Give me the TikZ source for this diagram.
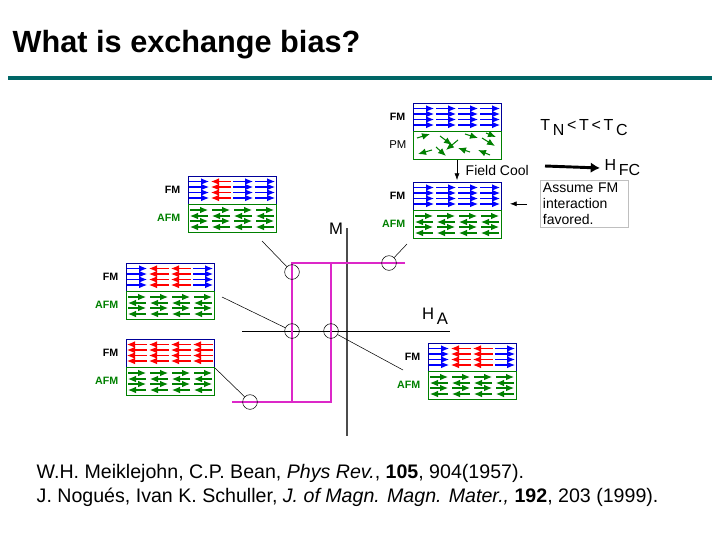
\documentclass[tikz,border=0pt]{standalone}
\usepackage{fontspec}
\setmainfont{Liberation Sans}
\usetikzlibrary{arrows.meta,positioning}
\definecolor{teal}{RGB}{0,102,102}
\definecolor{afmgreen}{RGB}{0,128,0}
\definecolor{loopmag}{RGB}{220,40,200}
\tikzset{
  half/.style={draw, minimum width=66pt, minimum height=21pt, inner sep=0pt, anchor=north west},
  spin/.style={line width=0.8pt, -{Latex[length=6pt,width=5pt]}},
  lab/.style={font=\fontsize{8}{9}\selectfont\bfseries, anchor=east},
  ring/.style={draw, circle, minimum size=11pt, inner sep=0pt},
  lead/.style={thin},
}
% #1 x, #2 y, #3 name, #4 FM columns colour/direction, #5 bottom label
\newcommand{\spinpanel}[5]{
  \node[half, draw=blue!60!black] (#3fm) at (#1,#2) {};
  \node[half, draw=afmgreen] (#3bot) at (#1,#2+28) {};
  \foreach \c/\d [count=\i from 0] in {#4}
    \foreach \r in {5.5,11,16.5,22}
      \draw[spin, \c] ({#1+22*\i+11-\d*10},#2+\r) -- ({#1+22*\i+11+\d*10},#2+\r);
  \node[lab] at (#1-3,#2+14) {FM};
  \node[lab, afmgreen] at (#1-3,#2+42) {#5};
}
\newcommand{\afm}[2]{
  \foreach \i in {0,...,3}{
    \draw[spin, afmgreen] (#1+22*\i+2,#2+28+6) -- (#1+22*\i+20,#2+28+6);
    \draw[spin, afmgreen] (#1+22*\i+20,#2+28+12) -- (#1+22*\i+2,#2+28+12);
    \draw[spin, afmgreen] (#1+22*\i+2,#2+28+17) -- (#1+22*\i+20,#2+28+17);
    \draw[spin, afmgreen] (#1+22*\i+20,#2+28+23) -- (#1+22*\i+2,#2+28+23);
  }
}
\begin{document}
\begin{tikzpicture}[x=0.75pt, y=-0.75pt]
\useasboundingbox (0,0) rectangle (720,540);
% title
\node[anchor=west, font=\fontsize{23}{26}\selectfont\bfseries] (title) at (8,45) {What is exchange bias?};
\draw[teal, line width=2.4pt] (8,78) -- (712,78);

% spin panels
\spinpanel{413}{103}{pa}{blue/1,blue/1,blue/1,blue/1}{}
\node[font=\fontsize{8.5}{9}\selectfont, anchor=east] at (411,145) {PM};
\foreach \x/\y/\u/\v in {417/138/430/134, 432/150/418/154, 440/136/452/145, 458/140/446/150, 465/134/478/138,
  470/152/458/148, 482/138/495/146, 490/155/478/150, 436/147/446/156, 486/133/496/137}
  \draw[spin, afmgreen] (\x,\y) -- (\u,\v);
\spinpanel{413}{182}{pb}{blue/1,blue/1,blue/1,blue/1}{AFM}
\afm{413}{182}
\spinpanel{188}{176}{pc}{blue/1,red/-1,blue/1,blue/1}{AFM}
\afm{188}{176}
\spinpanel{126}{263}{pd}{blue/1,red/-1,red/-1,blue/1}{AFM}
\afm{126}{263}
\spinpanel{126}{339}{pe}{red/-1,red/-1,red/-1,red/-1}{AFM}
\afm{126}{339}
\spinpanel{428}{343}{pf}{blue/1,red/-1,red/-1,blue/1}{AFM}
\afm{428}{343}

% field cooling
\draw[-{Latex[length=5pt]}] (457,160) -- (457,180);
\node[anchor=west, font=\fontsize{10.5}{12}\selectfont] (fc) at (461,170) {Field Cool};
\node[font=\fontsize{12}{13}\selectfont] (tn) at (584,128) {T\,\raisebox{-0.6ex}{N}\,<\,T\,<\,T\,\raisebox{-0.6ex}{C}};
\coordinate (hs) at (545,166);
\node[anchor=west, font=\fontsize{12}{13}\selectfont] (hfc) at (600,168) {H\,\raisebox{-0.6ex}{FC}};
\draw[line width=2.2pt, -{Latex[length=7pt,width=8pt]}] (hs) -- (hfc.west);
\node[draw=gray!50, anchor=north west, align=left, inner sep=2pt, text width=62pt, font=\fontsize{10.5}{12}\selectfont] (note) at (540,180) {Assume FM\\interaction\\favored.};
\draw[-{Latex[length=5pt]}] (note.west) ++(-13,0) coordinate (na) -- ++(-17,0);

% hysteresis loop
\draw[gray!60!black, thick] (347,228) -- (347,436);
\draw (242,331) -- (450,331);
\node[font=\fontsize{12.5}{13}\selectfont] (m) at (336,229) {M};
\node[font=\fontsize{12.5}{13}\selectfont] (ha) at (435,316) {H\,\raisebox{-0.6ex}{A}};
\draw[loopmag, line width=1.8pt] (405,263) -- (292,263) -- (292,402) (232,402) -- (331,402) -- (331,263);

\node[ring] (c1) at (292,272) {};
\node[ring] (c2) at (292,331) {};
\node[ring] (c3) at (331,331) {};
\node[ring] (c4) at (250,402) {};
\node[ring] (c5) at (389,263) {};
\coordinate (l1) at (262,241);
\coordinate (l2) at (222,297);
\coordinate (l3) at (403,370);
\coordinate (l4) at (215,368);
\coordinate (l5) at (407,244);
\draw[lead] (l1) -- (c1);
\draw[lead] (l2) -- (c2);
\draw[lead] (c3) -- (l3);
\draw[lead] (l4) -- (c4);
\draw[lead] (l5) -- (c5);

% references
\node[anchor=west, font=\fontsize{14.7}{16}\selectfont] (r1) at (32,473) {W.H. Meiklejohn, C.P. Bean, \textit{Phys Rev.}, \textbf{105}, 904(1957).};
\node[anchor=west, font=\fontsize{14.7}{16}\selectfont] (r2) at (32,497) {J. Nogués, Ivan K. Schuller, \textit{J. of Magn. Magn. Mater.,} \textbf{192}, 203 (1999).};
\end{tikzpicture}
\end{document}
